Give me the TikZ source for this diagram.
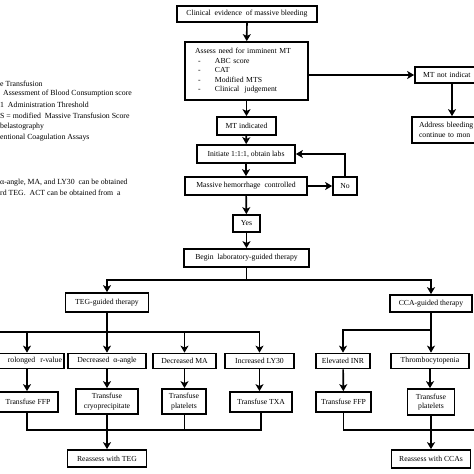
\documentclass[tikz,border=0pt]{standalone}
\usepackage{fontspec}
\setmainfont{Liberation Serif}
\usetikzlibrary{arrows.meta}
\newcommand\dashitem[1]{\makebox[20pt][l]{\hspace{3pt}-}#1}
\begin{document}
\begin{tikzpicture}[x=1pt,y=-1pt,
  box/.style={draw, line width=1.7pt, inner sep=0pt, font=\fontsize{7.7}{9.5}\selectfont},
  note/.style={anchor=west, inner sep=0pt, font=\fontsize{7.8}{10}\selectfont},
  conn/.style={line width=1.7pt},
  arr/.style={line width=1.7pt, -{Stealth[length=7pt,width=8pt,inset=1.8pt]}}]
\useasboundingbox (0,0) rectangle (474,474);
\clip (0,0) rectangle (474,474);
% notes
\node[note] (n1) at (0,83.5) {e Transfusion};
\node[note] (n2) at (3,94) {Assessment of Blood Consumption score};
\node[note] (n3) at (0,105) {1\ \ Administration Threshold};
\node[note] (n4) at (0,116) {S = modified\ \ Massive Transfusion Score};
\node[note] (n5) at (0,127) {belastography};
\node[note] (n6) at (0,138) {entional Coagulation Assays};
\node[note] (n7) at (0,182.5) {α-angle, MA, and LY30\ \ can be obtained};
\node[note] (n8) at (0,192.5) {rd TEG.\ \ ACT can be obtained from\ \ a};
% main column
\node[box, minimum width=140pt, minimum height=16pt] (clin) at (247,14) {Clinical\ \ evidence\ \ of massive bleeding};
\node[box, align=left, text width=103pt, inner xsep=10pt, minimum height=58pt] (assess) at (246.5,71)
  {Assess need for imminent MT\\ \dashitem{ABC score}\\ \dashitem{CAT}\\ \dashitem{Modified MTS}\\ \dashitem{Clinical\ \ judgement}};
\node[box, align=left, text width=58pt, inner xsep=8pt, minimum height=16pt] (mtn) at (452,75) {MT not indicat};
\node[box, align=left, text width=66pt, inner xsep=7pt, minimum height=26pt] (addr) at (452,130) {Address bleeding\\continue to mon};
\node[box, minimum width=59pt, minimum height=18pt] (mti) at (246.5,126) {MT indicated};
\node[box, minimum width=98pt, minimum height=18pt] (init) at (246,154) {Initiate 1:1:1, obtain labs};
\node[box, minimum width=122pt, minimum height=18pt] (mh) at (246,186) {Massive hemorrhage\ \ controlled};
\node[box, minimum width=24pt, minimum height=18pt] (no) at (345,186) {No};
\node[box, minimum width=27pt, minimum height=17pt] (yes) at (246.5,223.5) {Yes};
\node[box, minimum width=125pt, minimum height=18pt] (begin) at (246.5,258) {Begin\ \ laboratory-guided therapy};
\node[box, minimum width=83pt, minimum height=19pt] (teg) at (107,302.5) {TEG-guided therapy};
\node[box, minimum width=82pt, minimum height=17pt] (cca) at (431,303.5) {CCA-guided therapy};
% test row
\node[box, align=right, text width=70pt, inner xsep=2pt, minimum height=15pt] (prol) at (27,361) {rolonged\ \ r-value};
\node[box, minimum width=78pt, minimum height=15pt] (dalpha) at (107,361) {Decreased\ \ α-angle};
\node[box, minimum width=63pt, minimum height=15pt] (dma) at (184.5,361) {Decreased MA};
\node[box, minimum width=69pt, minimum height=15pt] (ly) at (259.5,361) {Increased LY30};
\node[box, minimum width=54pt, minimum height=15pt] (inr) at (343,361) {Elevated INR};
\node[box, minimum width=78pt, minimum height=15pt] (thr) at (430,361) {Thrombocytopenia};
% transfuse row
\node[box, minimum width=60pt, minimum height=20pt] (tffp1) at (28,402) {Transfuse FFP};
\node[box, align=center, minimum width=62pt, minimum height=25pt] (tcryo) at (107,401.5) {Transfuse\\cryoprecipitate};
\node[box, align=center, minimum width=44pt, minimum height=25pt] (tplt1) at (184,401.5) {Transfuse\\platelets};
\node[box, minimum width=62pt, minimum height=20pt] (ttxa) at (261,402) {Transfuse TXA};
\node[box, minimum width=55pt, minimum height=20pt] (tffp2) at (343.5,402) {Transfuse FFP};
\node[box, align=center, minimum width=47pt, minimum height=26pt] (tplt2) at (431,402) {Transfuse\\platelets};
% reassess
\node[box, minimum width=79pt, minimum height=17pt] (rteg) at (107,458.5) {Reassess with TEG};
\node[box, minimum width=79pt, minimum height=18pt] (rcca) at (431,459) {Reassess with CCAs};
% bus coordinates
\coordinate (jb) at (246.5,280);
\coordinate (jt) at (107,332);
\coordinate (tl) at (-5,332);
\coordinate (jc) at (431,330);
\coordinate (jb2) at (107,430);
\coordinate (rr) at (480,430);
% connectors
\draw[arr] (clin) -- (assess);
\draw[arr] (assess) -- (mti);
\draw[arr] (assess.east |- mtn.west) -- (mtn.west);
\draw[arr] (mtn) -- (addr);
\draw[arr] (mti) -- (init);
\draw[arr] (init) -- (mh);
\draw[arr] (mh) -- (no);
\draw[arr] (no.north) |- (init.east);
\draw[arr] (mh) -- (yes);
\draw[arr] (yes) -- (begin);
\draw[conn] (begin) -- (jb);
\draw[arr] (jb) -| (teg.north);
\draw[arr] (jb) -| (cca.north);
\draw[arr] (teg) -- (dalpha);
\draw[conn] (tl) -- (ly.north |- jt);
\draw[arr] (prol.north |- jt) -- (prol.north);
\draw[arr] (dma.north |- jt) -- (dma.north);
\draw[arr] (ly.north |- jt) -- (ly.north);
\draw[arr] (cca.south) -- (cca.south |- thr.north);
\draw[arr] (jc) -| (inr.north);
\draw[arr] (prol.south) -- (prol.south |- tffp1.north);
\draw[arr] (dalpha) -- (tcryo);
\draw[arr] (dma.south) -- (dma.south |- tplt1.north);
\draw[arr] (ly.south) -- (ly.south |- ttxa.north);
\draw[arr] (inr) -- (tffp2);
\draw[arr] (thr.south) -- (thr.south |- tplt2.north);
\draw[conn] (tffp1.south -| prol.south) |- (ttxa.south |- jb2) -- (ttxa.south);
\draw[conn] (tplt1.south -| dma.south) -- (dma.south |- jb2);
\draw[arr] (tcryo) -- (rteg);
\draw[conn] (tffp2.south) |- (rr);
\draw[arr] (tplt2) -- (rcca);
\end{tikzpicture}
\end{document}
